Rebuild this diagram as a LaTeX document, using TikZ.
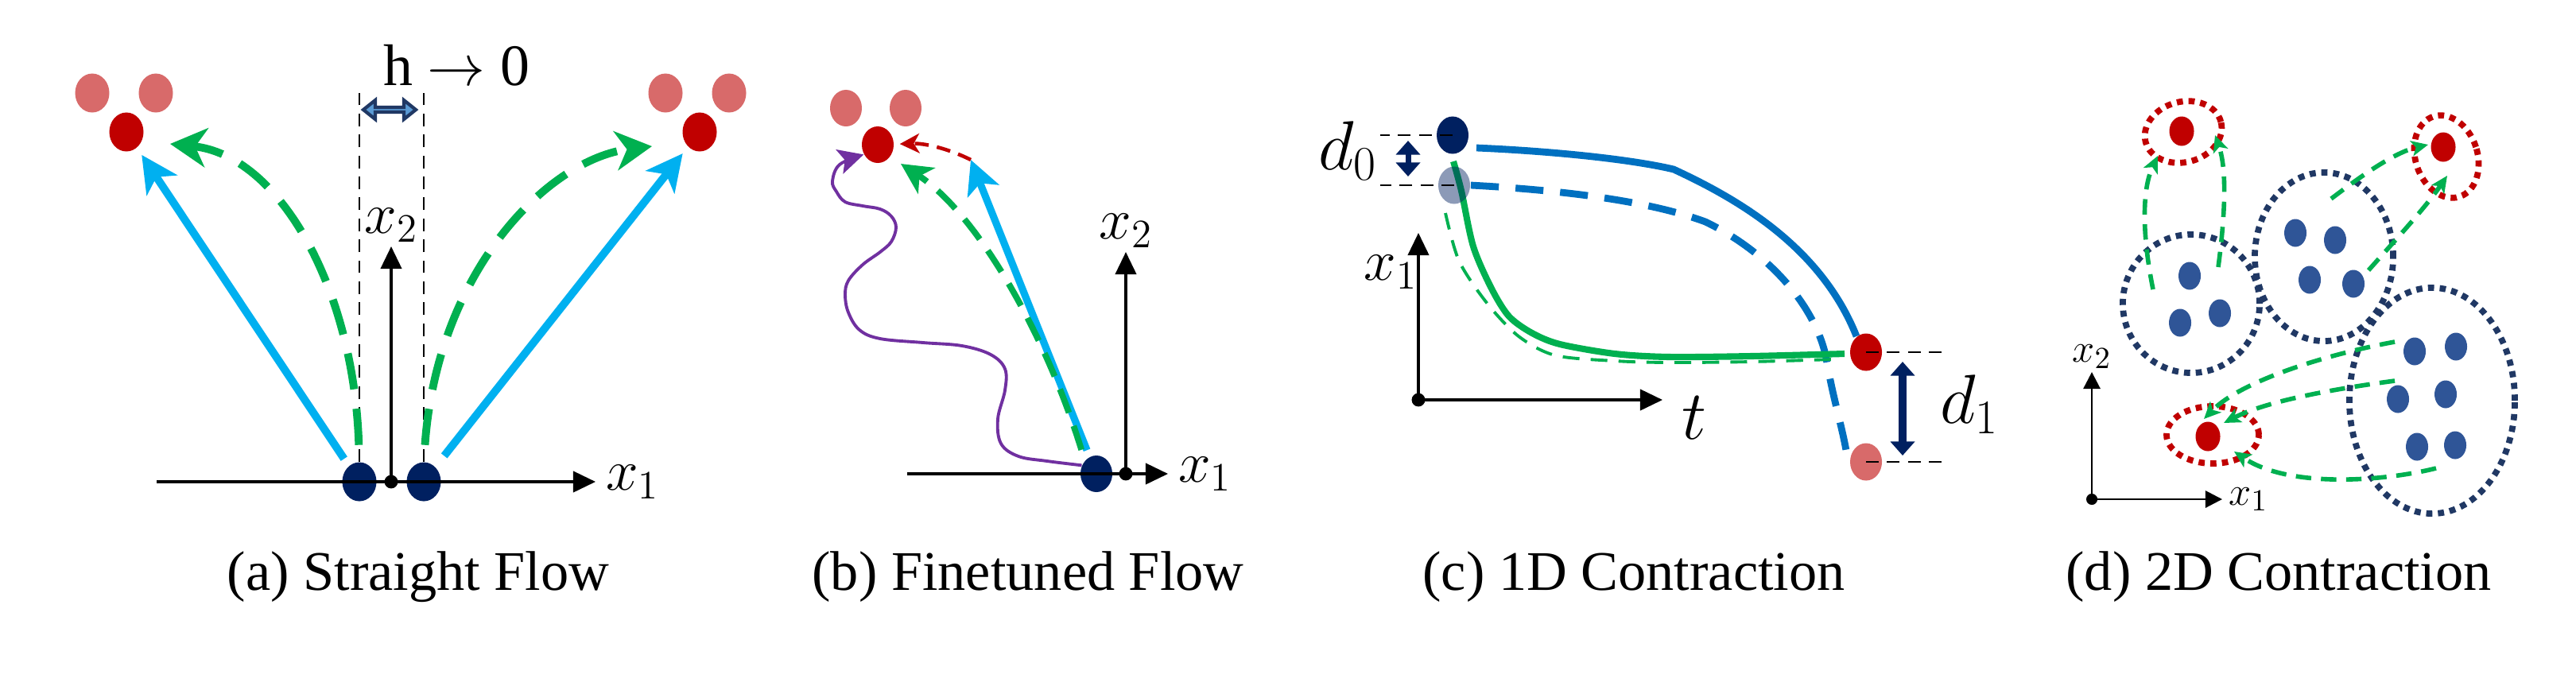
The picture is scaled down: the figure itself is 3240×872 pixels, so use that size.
\documentclass[tikz,border=0pt]{standalone}
\usepackage{fontspec}
\setmainfont{Liberation Serif}
\usetikzlibrary{arrows.meta,shapes.geometric}

\definecolor{navy}{HTML}{002060}
\definecolor{darkred}{HTML}{C00000}
\definecolor{paler}{HTML}{D86A6A}
\definecolor{skyblue}{HTML}{00B0F0}
\definecolor{flowgreen}{HTML}{00B050}
\definecolor{wiggle}{HTML}{7030A0}
\definecolor{midblue}{HTML}{0070C0}
\definecolor{dotblue}{HTML}{2F5597}
\definecolor{slate}{HTML}{203864}
\definecolor{arrowfill}{HTML}{5B9BD5}

\tikzset{
  blob/.style={ellipse, inner sep=0pt, minimum width=4.3mm, minimum height=4.9mm},
  srcdot/.style={blob, fill=navy},
  tgtdot/.style={blob, fill=darkred},
  ghostdot/.style={blob, fill=paler},
  sizeb/.style={minimum width=4mm, minimum height=4.6mm},
  ptdot/.style={blob, fill=dotblue, minimum width=2.8mm, minimum height=3.5mm},
  reddot/.style={blob, fill=darkred, minimum width=3.1mm, minimum height=3.7mm},
  axisarrow/.style={line width=0.9pt, -{Triangle[length=8pt, width=7.5pt]}},
  guideline/.style={line width=0.6pt, dash pattern=on 4.5pt off 3pt},
  straightflow/.style={skyblue, line width=2.8pt, -{Stealth[length=13pt, width=13pt, inset=3.5pt]}},
  curvedflow/.style={flowgreen, line width=2.8pt, dash pattern=on 13pt off 7pt, -{Stealth[length=13pt, width=14pt, inset=4pt]}},
  gap/.style={navy, {Triangle[length=5pt, width=8.5pt]}-{Triangle[length=5pt, width=8.5pt]}},
  cluster/.style={ellipse, draw=slate, line width=2.2pt, dash pattern=on 2.2pt off 2pt},
  ring/.style={ellipse, draw=darkred, line width=2.2pt, dash pattern=on 2.2pt off 2pt},
  pull/.style={flowgreen, line width=1.6pt, dash pattern=on 5.5pt off 3.5pt, -{Stealth[length=6pt, width=5.5pt, inset=1.5pt]}},
  caption/.style={anchor=base, font=\fontsize{20}{24}\selectfont},
  lab/.style={font=\fontsize{21}{25}\selectfont},
  biglab/.style={font=\fontsize{24}{29}\selectfont},
  smalllab/.style={font=\fontsize{15}{18}\selectfont}
}

\begin{document}
\begin{tikzpicture}[x=0.01cm, y=-0.01cm]
\useasboundingbox (0,0) rectangle (3240,872);

% (a) straight flow
\node[ghostdot] (pa1) at (116,117) {};
\node[ghostdot] (pa2) at (196,117) {};
\node[tgtdot] (ta) at (159,166) {};
\node[ghostdot] (pa3) at (837,117) {};
\node[ghostdot] (pa4) at (917,117) {};
\node[tgtdot] (tb) at (880,166) {};
\node[srcdot] (sa) at (452,606) {};
\node[srcdot] (sb) at (533,606) {};
\coordinate (oa) at (492,606);
\coordinate (ga) at (214,181);
\coordinate (gb) at (820,184);

\draw[guideline] (sa.north) -- ++(0,-465);
\draw[guideline] (sb.north) -- ++(0,-465);
\filldraw[fill=arrowfill, draw=slate, line width=1.2pt] (457,138) -- ++(15,-12) -- ++(0,9) -- ++(36,0) -- ++(0,-9) -- ++(15,12)
  -- ++(-15,12) -- ++(0,-9) -- ++(-36,0) -- ++(0,9) -- cycle;
\node[lab, anchor=base west] (ha) at (470,107) {h $\rightarrow$ 0};

\draw[straightflow, shorten <=3pt, shorten >=3pt] (sa) -- (ta);
\draw[straightflow, shorten <=5pt, shorten >=3pt] (sb) -- (tb);
\draw[curvedflow, shorten <=6pt] (sa.north) .. controls (445,360) and (350,195) .. (ga);
\draw[curvedflow, shorten <=6pt] (sb.north) .. controls (550,340) and (690,200) .. (gb);

\draw[axisarrow] (197,606) -- (749,606) node[lab, right] (xa1) {$x_1$};
\draw[axisarrow] (oa) -- (492,310) node[lab, above, inner sep=1pt] (xa2) {$x_2$};
\fill (oa) circle (2.4pt);

% (b) finetuned flow
\node[ghostdot, sizeb] (pb1) at (1064,136) {};
\node[ghostdot, sizeb] (pb2) at (1139,136) {};
\node[tgtdot, sizeb] (tc) at (1104,182) {};
\node[srcdot, sizeb] (sc) at (1379,596) {};
\coordinate (oc) at (1416,596);
\coordinate (bc) at (1221,201);
\coordinate (gc) at (1133,206);

\draw[wiggle, line width=1.1pt, -{Stealth[length=9pt, width=9pt, inset=2pt]}] plot[smooth, tension=0.6] coordinates {(sc.150)
  (1317,580) (1281,574) (1259,558) (1255,527) (1264,491) (1264,464) (1246,446) (1210,435) (1161,431) (1107,426)
  (1081,415) (1067,393) (1063,371) (1067,353) (1085,333) (1107,317) (1121,304) (1127,286) (1121,272) (1107,263)
  (1085,259) (1063,254) (1052,241) (1047,228) (1056,207) (tc.215)};
\draw[straightflow, line width=2.6pt, shorten <=2.5pt, -{Stealth[length=12pt, width=12pt, inset=3pt]}] (sc) -- (bc);
\draw[curvedflow, line width=2.2pt, dash pattern=on 9pt off 5pt, -{Stealth[length=11pt, width=11pt, inset=3pt]}, shorten <=4pt]
  (sc.north west) .. controls (1315,420) and (1230,270) .. (gc);
\draw[darkred, line width=1.3pt, dash pattern=on 5pt off 3pt, -{Stealth[length=7pt, width=7pt, inset=2pt]}, shorten >=2pt]
  (bc) .. controls (1195,188) and (1165,180) .. (tc);

\draw[axisarrow] (1141,596) -- (1469,596) node[lab, right] (xb1) {$x_1$};
\draw[axisarrow] (oc) -- (1416,317) node[lab, above, inner sep=1pt] (xb2) {$x_2$};
\fill (oc) circle (2.4pt);

% (c) 1D contraction
\draw[midblue, line width=2.5pt] (1857,186) .. controls (1950,190) and (2050,200) .. (2105,213)
  .. controls (2185,250) and (2290,310) .. (2335,423);
\draw[midblue, line width=2.5pt, dash pattern=on 10pt off 6pt] (1850,233) .. controls (1980,240) and (2080,255) .. (2145,279)
  .. controls (2230,320) and (2285,390) .. (2297,451) .. controls (2305,500) and (2318,540) .. (2323,573);
\draw[flowgreen, line width=2.3pt] plot[smooth] coordinates {(1828,203) (1838,240) (1853,310) (1876,363) (1898,398)
  (1927,419) (1962,433) (2031,445) (2099,449) (2203,448) (2320,445)};
\draw[flowgreen, line width=1.1pt, dash pattern=on 6pt off 4pt] plot[smooth] coordinates {(1818,268) (1835,328) (1870,381)
  (1910,423) (1956,447) (2031,454) (2099,456) (2203,455) (2306,452)};

\node[srcdot, minimum width=4mm, minimum height=4.7mm] (s0) at (1827,170) {};
\node[srcdot, minimum width=4mm, minimum height=4.7mm, fill opacity=0.45] (s1) at (1829,233) {};
\node[tgtdot, minimum width=4mm, minimum height=4.7mm] (r0) at (2347,443) {};
\node[ghostdot, minimum width=4mm, minimum height=4.7mm] (r1) at (2347,581) {};

\draw[guideline] (s0.center) -- ++(-91,0);
\draw[guideline] (s1.center) -- ++(-93,0);
\draw[guideline] (r0.center) -- ++(95,0);
\draw[guideline] (r1.center) -- ++(95,0);
\coordinate (u0) at (1771,177);
\coordinate (u1) at (1771,222);
\coordinate (v0) at (2393,455);
\coordinate (v1) at (2393,573);
\draw[gap, line width=2pt] (u0) -- (u1);
\draw[gap, line width=2.8pt] (v0) -- (v1);
\node[biglab, anchor=base west] (dz) at (1646,213) {$d_0$};
\node[biglab, anchor=base west] (dn) at (2428,532) {$d_1$};

\coordinate (oe) at (1784,503);
\draw[axisarrow] (oe) -- (1784,293);
\draw[axisarrow] (oe) -- (2091,503);
\fill (oe) circle (2.4pt);
\node[lab] (xc1) at (1749,342) {$x_1$};
\node[biglab] (tt) at (2131,526) {$t$};

% (d) 2D contraction
\node[cluster, minimum width=1.72cm, minimum height=1.74cm] (ca) at (2756,382) {};
\node[cluster, minimum width=1.74cm, minimum height=2.12cm] (cb) at (2923,323) {};
\node[cluster, minimum width=2.08cm, minimum height=2.84cm] (cc) at (3059,504) {};

\node[ptdot] (a1) at (2754,347) {};
\node[ptdot] (a2) at (2792,394) {};
\node[ptdot] (a3) at (2742,406) {};
\node[ptdot] (b1) at (2887,293) {};
\node[ptdot] (b2) at (2937,302) {};
\node[ptdot] (b3) at (2905,352) {};
\node[ptdot] (b4) at (2960,357) {};
\node[ptdot] (c1) at (3037,442) {};
\node[ptdot] (c2) at (3089,436) {};
\node[ptdot] (c3) at (3016,502) {};
\node[ptdot] (c4) at (3076,496) {};
\node[ptdot] (c5) at (3040,562) {};
\node[ptdot] (c6) at (3088,560) {};

\node[ring, rotate=15, minimum width=0.98cm, minimum height=0.76cm] (e1) at (2746,166) {};
\node[ring, rotate=18, minimum width=0.78cm, minimum height=1.06cm] (e2) at (3077,197) {};
\node[ring, minimum width=1.16cm, minimum height=0.72cm] (e3) at (2783,547) {};
\node[reddot] (q1) at (2744,165) {};
\node[reddot] (q2) at (3073,185) {};
\node[reddot] (q3) at (2777,549) {};

\coordinate (f1) at (2708,364);
\coordinate (h1) at (2714,196);
\coordinate (f2) at (2790,336);
\coordinate (h2) at (2786,170);
\coordinate (f3) at (2932,250);
\coordinate (h3) at (3054,182);
\coordinate (f4) at (2979,340);
\coordinate (h4) at (3078,221);
\coordinate (f5) at (3012,430);
\coordinate (h5) at (2772,527);
\coordinate (f6) at (3012,479);
\coordinate (h6) at (2797,532);
\coordinate (f7) at (3064,589);
\coordinate (h7) at (2810,568);
\draw[pull] (f1) .. controls (2695,300) and (2693,240) .. (h1);
\draw[pull] (f2) .. controls (2800,260) and (2800,210) .. (h2);
\draw[pull] (f3) .. controls (2965,225) and (3010,192) .. (h3);
\draw[pull] (f4) .. controls (3010,305) and (3050,262) .. (h4);
\draw[pull] (f5) .. controls (2930,445) and (2820,478) .. (h5);
\draw[pull] (f6) .. controls (2930,490) and (2850,505) .. (h6);
\draw[pull] (f7) .. controls (3000,605) and (2880,615) .. (h7);

\coordinate (od) at (2631,628);
\draw[line width=0.8pt, -{Triangle[length=6pt, width=6pt]}] (od) -- (2631,468) node[smalllab, above, inner sep=1pt] (xd2) {$x_2$};
\draw[line width=0.8pt, -{Triangle[length=6pt, width=6pt]}] (od) -- (2795,628) node[smalllab, right, inner sep=2pt] (xd1) {$x_1$};
\fill (od) circle (2pt);

% captions
\node[caption] (capa) at (526,742) {(a) Straight Flow};
\node[caption] (capb) at (1293,742) {(b) Finetuned Flow};
\node[caption] (capc) at (2055,742) {(c) 1D Contraction};
\node[caption] (capd) at (2866,742) {(d) 2D Contraction};

\end{tikzpicture}
\end{document}
